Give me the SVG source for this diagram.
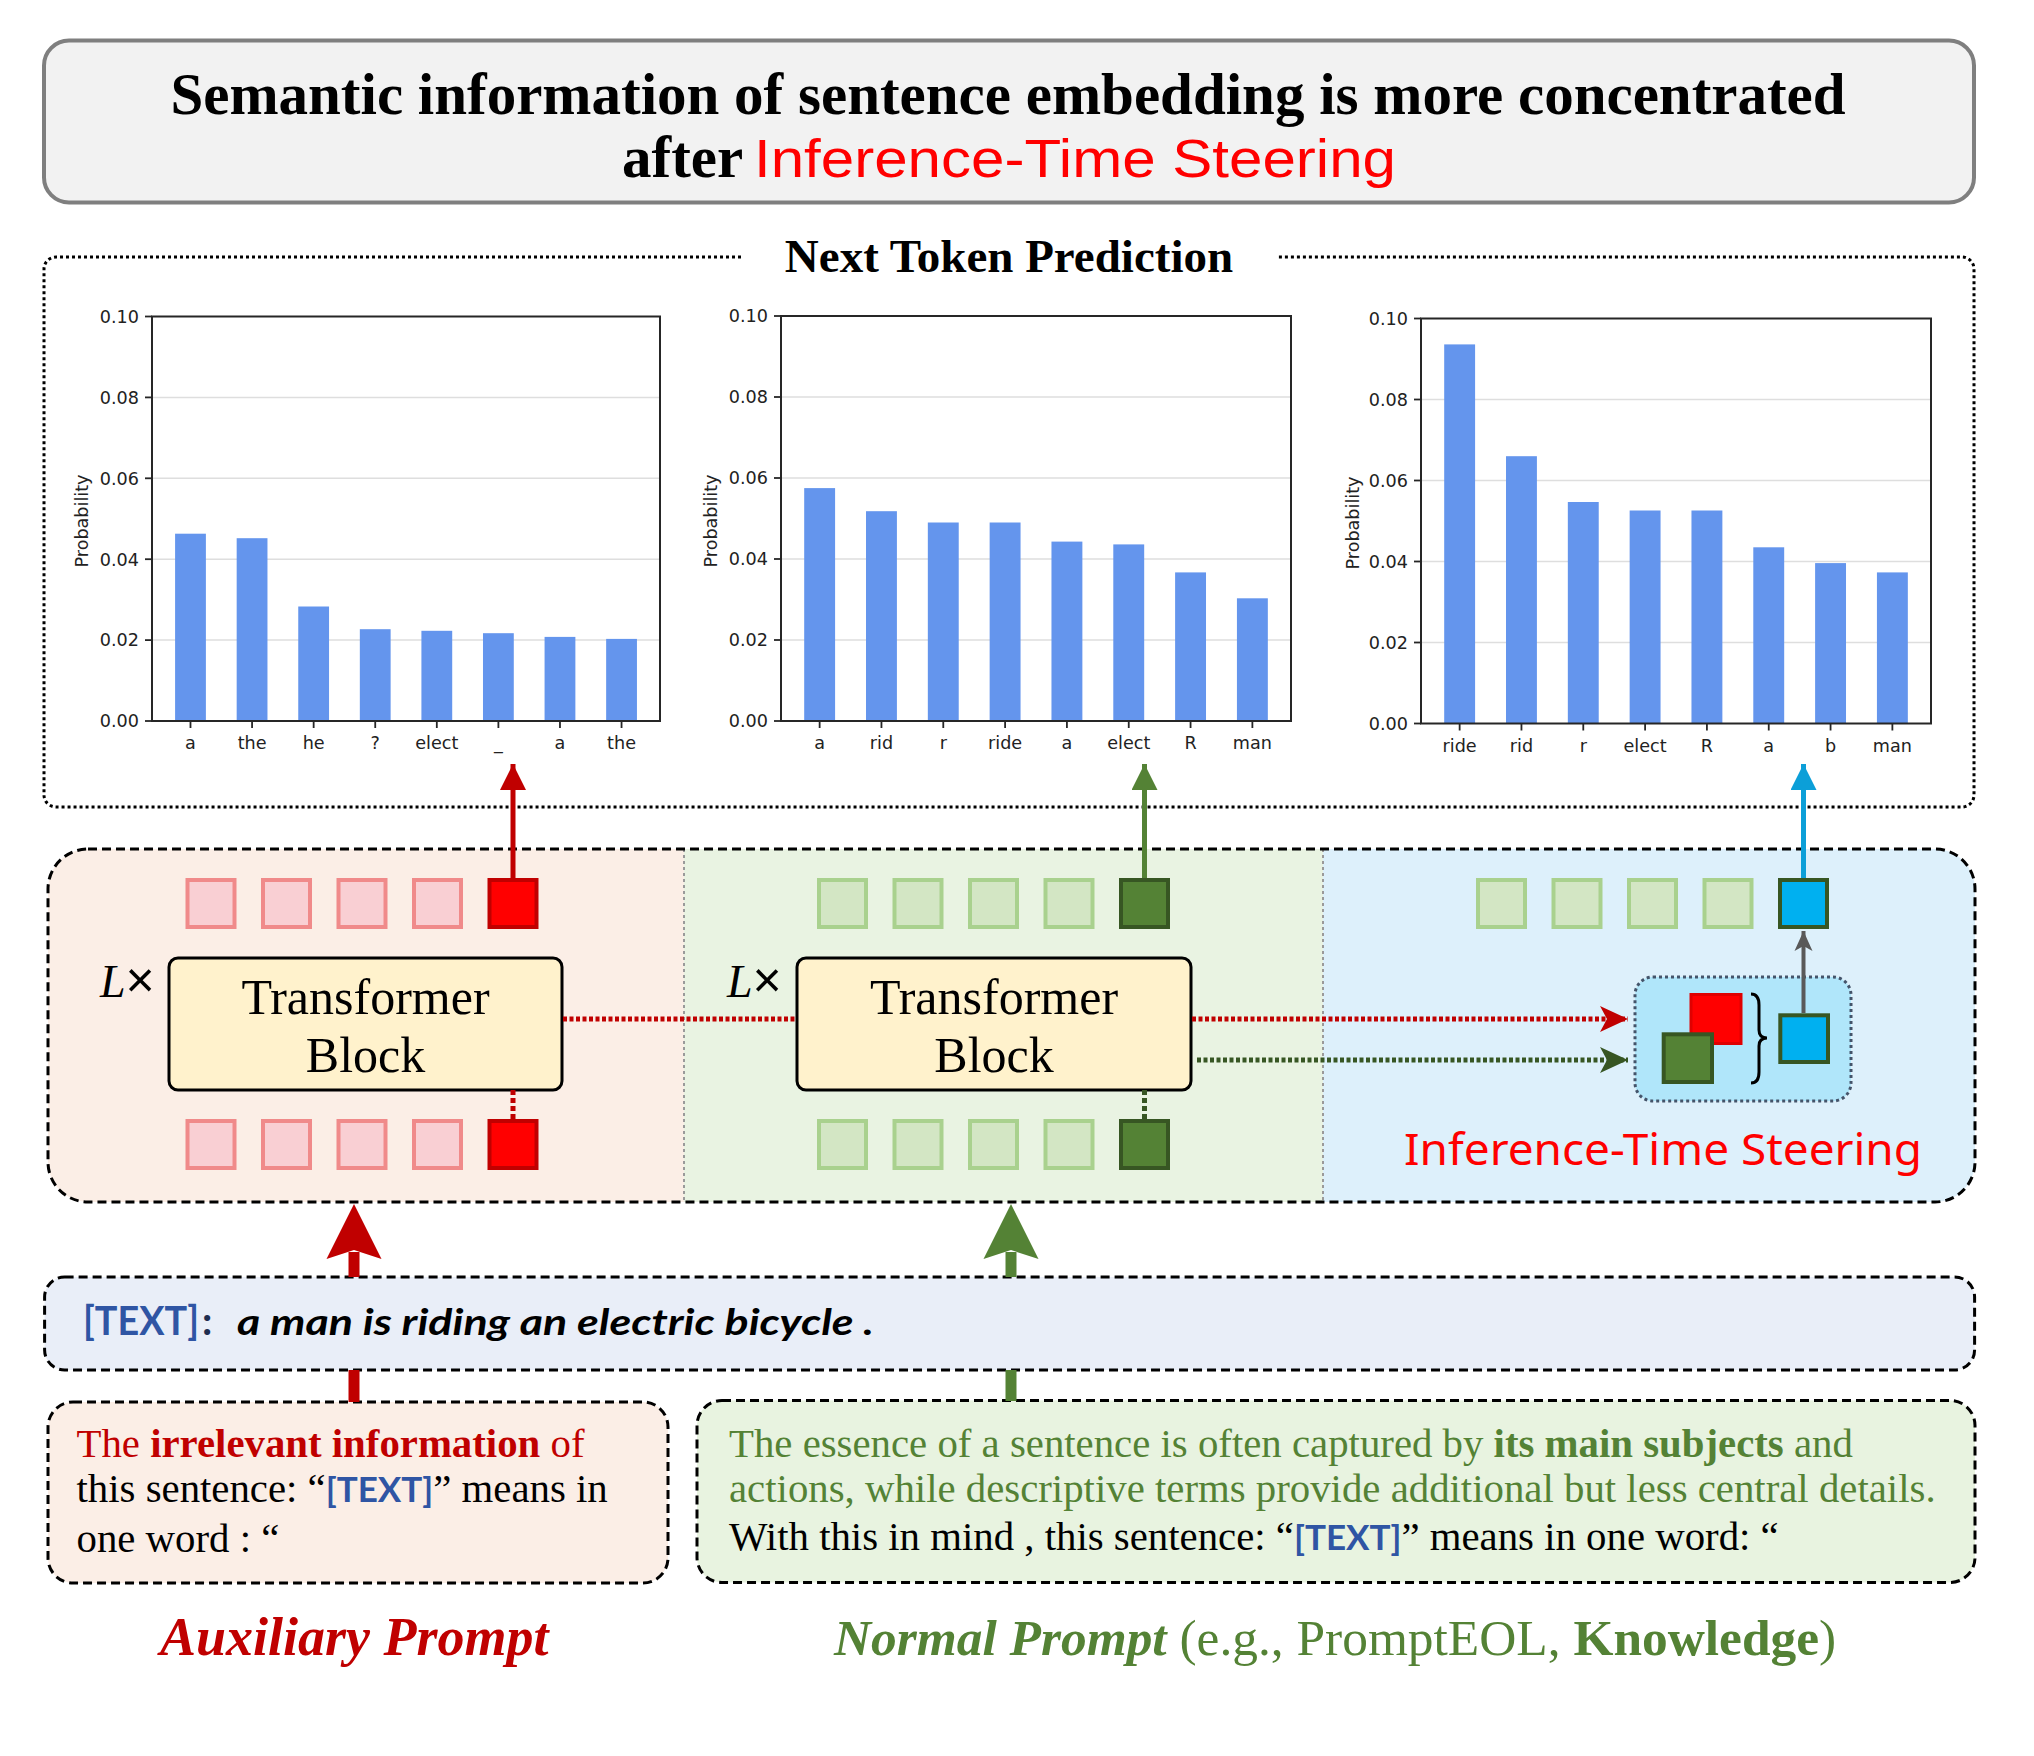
<svg xmlns="http://www.w3.org/2000/svg" width="2034" height="1756" viewBox="0 0 2034 1756">
<defs>
<style>
.serif{font-family:'Liberation Serif','Times New Roman',serif}
.tk{font-family:'DejaVu Sans',sans-serif;font-size:17.6px;fill:#222}
.bar{fill:#6495ed}
.grid{stroke:#dedede;stroke-width:1.5}
.spine{fill:none;stroke:#262626;stroke-width:2}
.tm{stroke:#262626;stroke-width:1.8}
.pink{fill:#f9cfd3;stroke:#f08a8a;stroke-width:4}
.lg{fill:#d3e6c4;stroke:#a9d18e;stroke-width:4}
.dg{fill:#548235;stroke:#375623;stroke-width:4}
.rd{fill:#ff0000;stroke:#c00000;stroke-width:4}
.bl{fill:#00b0f0;stroke:#375623;stroke-width:4}
.tb{fill:#fff2cc;stroke:#000;stroke-width:3}
.tbt{font-family:'Liberation Serif',serif;font-size:50px;fill:#000;text-anchor:middle}
.lx{font-family:'Liberation Serif',serif;font-size:46px;fill:#000}
.dash{stroke:#000;stroke-width:3;stroke-dasharray:9 5}
.ptxt{font-family:'Liberation Serif',serif;font-size:40.8px}
.tag{font-family:'Lato','Liberation Sans',sans-serif;font-weight:bold;fill:#2f55a4}
</style>
<marker id="headR" markerUnits="userSpaceOnUse" viewBox="0 0 26 26" refX="26" refY="13" markerWidth="26" markerHeight="26" orient="auto"><path d="M0,0 L26,13 L0,26 Z" fill="#c00000"/></marker>
<marker id="headG" markerUnits="userSpaceOnUse" viewBox="0 0 26 26" refX="26" refY="13" markerWidth="26" markerHeight="26" orient="auto"><path d="M0,0 L26,13 L0,26 Z" fill="#548235"/></marker>
<marker id="headC" markerUnits="userSpaceOnUse" viewBox="0 0 26 26" refX="26" refY="13" markerWidth="26" markerHeight="26" orient="auto"><path d="M0,0 L26,13 L0,26 Z" fill="#0c9fd8"/></marker>
<marker id="stealthR" markerUnits="userSpaceOnUse" viewBox="0 0 28 26" refX="28" refY="13" markerWidth="28" markerHeight="26" orient="auto"><path d="M0,0 L28,13 L0,26 L7,13 Z" fill="#c00000"/></marker>
<marker id="stealthG" markerUnits="userSpaceOnUse" viewBox="0 0 28 26" refX="28" refY="13" markerWidth="28" markerHeight="26" orient="auto"><path d="M0,0 L28,13 L0,26 L7,13 Z" fill="#375623"/></marker>
<marker id="openGray" markerUnits="userSpaceOnUse" viewBox="0 0 20 20" refX="20" refY="10" markerWidth="20" markerHeight="20" orient="auto"><path d="M0,1 L20,10 L0,19 L5,10 Z" fill="#595959"/></marker>
<clipPath id="secClip"><rect x="48" y="849" width="1927" height="353" rx="40"/></clipPath>
</defs>

<rect width="2034" height="1756" fill="#ffffff"/>

<!-- Title -->
<g id="title">
<rect x="44" y="40.5" width="1930" height="162" rx="25" fill="#f2f2f2" stroke="#7f7f7f" stroke-width="4"/>
<text class="serif" x="1008" y="114" font-size="59" font-weight="bold" text-anchor="middle" fill="#000">Semantic information of sentence embedding is more concentrated</text>
<text class="serif" x="622" y="177" font-size="59" font-weight="bold" fill="#000">after</text>
<text x="754" y="177" font-family="'Liberation Sans',sans-serif" font-size="54" fill="#ff0000" textLength="642" lengthAdjust="spacingAndGlyphs">Inference-Time Steering</text>
</g>

<!-- Next token prediction panel -->
<g id="ntp-panel">
<path d="M741,257 L56,257 A12,12 0 0 0 44,269 L44,795 A12,12 0 0 0 56,807 L1962,807 A12,12 0 0 0 1974,795 L1974,269 A12,12 0 0 0 1962,257 L1278,257" fill="none" stroke="#000" stroke-width="3" stroke-dasharray="3 3"/>
<text class="serif" x="1009" y="272" font-size="47" font-weight="bold" text-anchor="middle" fill="#000">Next Token Prediction</text>
</g>

<!-- Chart 1 -->
<g id="chart1">
<line class="grid" x1="152" y1="640.1" x2="660" y2="640.1"/>
<line class="grid" x1="152" y1="559.2" x2="660" y2="559.2"/>
<line class="grid" x1="152" y1="478.3" x2="660" y2="478.3"/>
<line class="grid" x1="152" y1="397.4" x2="660" y2="397.4"/>
<rect class="bar" x="175.09" y="533.7" width="30.8" height="187.3"/>
<rect class="bar" x="236.67" y="538.2" width="30.8" height="182.8"/>
<rect class="bar" x="298.25" y="606.5" width="30.8" height="114.5"/>
<rect class="bar" x="359.83" y="629.2" width="30.8" height="91.8"/>
<rect class="bar" x="421.41" y="630.8" width="30.8" height="90.2"/>
<rect class="bar" x="482.99" y="633.2" width="30.8" height="87.8"/>
<rect class="bar" x="544.57" y="636.9" width="30.8" height="84.1"/>
<rect class="bar" x="606.15" y="638.9" width="30.8" height="82.1"/>
<rect class="spine" x="152" y="316.5" width="508" height="404.5"/>
<g class="tm">
<line x1="145" y1="721" x2="152" y2="721"/><line x1="145" y1="640.1" x2="152" y2="640.1"/><line x1="145" y1="559.2" x2="152" y2="559.2"/><line x1="145" y1="478.3" x2="152" y2="478.3"/><line x1="145" y1="397.4" x2="152" y2="397.4"/><line x1="145" y1="316.5" x2="152" y2="316.5"/>
<line x1="190.49" y1="721" x2="190.49" y2="728"/><line x1="252.07" y1="721" x2="252.07" y2="728"/><line x1="313.65" y1="721" x2="313.65" y2="728"/><line x1="375.23" y1="721" x2="375.23" y2="728"/><line x1="436.81" y1="721" x2="436.81" y2="728"/><line x1="498.39" y1="721" x2="498.39" y2="728"/><line x1="559.97" y1="721" x2="559.97" y2="728"/><line x1="621.55" y1="721" x2="621.55" y2="728"/>
</g>
<g class="tk" text-anchor="end">
<text x="139" y="727.3">0.00</text><text x="139" y="646.4">0.02</text><text x="139" y="565.5">0.04</text><text x="139" y="484.6">0.06</text><text x="139" y="403.7">0.08</text><text x="139" y="322.8">0.10</text>
</g>
<g class="tk" text-anchor="middle">
<text x="190.49" y="749">a</text><text x="252.07" y="749">the</text><text x="313.65" y="749">he</text><text x="375.23" y="749">?</text><text x="436.81" y="749">elect</text><text x="498.39" y="749">_</text><text x="559.97" y="749">a</text><text x="621.55" y="749">the</text>
</g>
<text class="tk" text-anchor="middle" transform="translate(88,521) rotate(-90)">Probability</text>
</g>

<!-- Chart 2 -->
<g id="chart2">
<line class="grid" x1="781" y1="640" x2="1291" y2="640"/>
<line class="grid" x1="781" y1="559" x2="1291" y2="559"/>
<line class="grid" x1="781" y1="478" x2="1291" y2="478"/>
<line class="grid" x1="781" y1="397" x2="1291" y2="397"/>
<rect class="bar" x="804.19" y="488.1" width="30.9" height="232.9"/>
<rect class="bar" x="866.01" y="511.2" width="30.9" height="209.8"/>
<rect class="bar" x="927.83" y="522.5" width="30.9" height="198.5"/>
<rect class="bar" x="989.65" y="522.5" width="30.9" height="198.5"/>
<rect class="bar" x="1051.47" y="541.6" width="30.9" height="179.4"/>
<rect class="bar" x="1113.29" y="544.4" width="30.9" height="176.6"/>
<rect class="bar" x="1175.11" y="572.4" width="30.9" height="148.6"/>
<rect class="bar" x="1236.93" y="598.3" width="30.9" height="122.7"/>
<rect class="spine" x="781" y="316" width="510" height="405"/>
<g class="tm">
<line x1="774" y1="721" x2="781" y2="721"/><line x1="774" y1="640" x2="781" y2="640"/><line x1="774" y1="559" x2="781" y2="559"/><line x1="774" y1="478" x2="781" y2="478"/><line x1="774" y1="397" x2="781" y2="397"/><line x1="774" y1="316" x2="781" y2="316"/>
<line x1="819.64" y1="721" x2="819.64" y2="728"/><line x1="881.46" y1="721" x2="881.46" y2="728"/><line x1="943.28" y1="721" x2="943.28" y2="728"/><line x1="1005.1" y1="721" x2="1005.1" y2="728"/><line x1="1066.92" y1="721" x2="1066.92" y2="728"/><line x1="1128.74" y1="721" x2="1128.74" y2="728"/><line x1="1190.56" y1="721" x2="1190.56" y2="728"/><line x1="1252.38" y1="721" x2="1252.38" y2="728"/>
</g>
<g class="tk" text-anchor="end">
<text x="768" y="727.3">0.00</text><text x="768" y="646.3">0.02</text><text x="768" y="565.3">0.04</text><text x="768" y="484.3">0.06</text><text x="768" y="403.3">0.08</text><text x="768" y="322.3">0.10</text>
</g>
<g class="tk" text-anchor="middle">
<text x="819.64" y="749">a</text><text x="881.46" y="749">rid</text><text x="943.28" y="749">r</text><text x="1005.1" y="749">ride</text><text x="1066.92" y="749">a</text><text x="1128.74" y="749">elect</text><text x="1190.56" y="749">R</text><text x="1252.38" y="749">man</text>
</g>
<text class="tk" text-anchor="middle" transform="translate(717,521) rotate(-90)">Probability</text>
</g>

<!-- Chart 3 -->
<g id="chart3">
<line class="grid" x1="1421" y1="642.5" x2="1931" y2="642.5"/>
<line class="grid" x1="1421" y1="561.5" x2="1931" y2="561.5"/>
<line class="grid" x1="1421" y1="480.5" x2="1931" y2="480.5"/>
<line class="grid" x1="1421" y1="399.5" x2="1931" y2="399.5"/>
<rect class="bar" x="1444.19" y="344.4" width="30.9" height="379.1"/>
<rect class="bar" x="1506.01" y="456.2" width="30.9" height="267.3"/>
<rect class="bar" x="1567.83" y="502" width="30.9" height="221.5"/>
<rect class="bar" x="1629.65" y="510.5" width="30.9" height="213"/>
<rect class="bar" x="1691.47" y="510.5" width="30.9" height="213"/>
<rect class="bar" x="1753.29" y="547.3" width="30.9" height="176.2"/>
<rect class="bar" x="1815.11" y="563.1" width="30.9" height="160.4"/>
<rect class="bar" x="1876.93" y="572.4" width="30.9" height="151.1"/>
<rect class="spine" x="1421" y="318.5" width="510" height="405"/>
<g class="tm">
<line x1="1414" y1="723.5" x2="1421" y2="723.5"/><line x1="1414" y1="642.5" x2="1421" y2="642.5"/><line x1="1414" y1="561.5" x2="1421" y2="561.5"/><line x1="1414" y1="480.5" x2="1421" y2="480.5"/><line x1="1414" y1="399.5" x2="1421" y2="399.5"/><line x1="1414" y1="318.5" x2="1421" y2="318.5"/>
<line x1="1459.64" y1="723.5" x2="1459.64" y2="730.5"/><line x1="1521.46" y1="723.5" x2="1521.46" y2="730.5"/><line x1="1583.28" y1="723.5" x2="1583.28" y2="730.5"/><line x1="1645.1" y1="723.5" x2="1645.1" y2="730.5"/><line x1="1706.92" y1="723.5" x2="1706.92" y2="730.5"/><line x1="1768.74" y1="723.5" x2="1768.74" y2="730.5"/><line x1="1830.56" y1="723.5" x2="1830.56" y2="730.5"/><line x1="1892.38" y1="723.5" x2="1892.38" y2="730.5"/>
</g>
<g class="tk" text-anchor="end">
<text x="1408" y="729.8">0.00</text><text x="1408" y="648.8">0.02</text><text x="1408" y="567.8">0.04</text><text x="1408" y="486.8">0.06</text><text x="1408" y="405.8">0.08</text><text x="1408" y="324.8">0.10</text>
</g>
<g class="tk" text-anchor="middle">
<text x="1459.64" y="751.5">ride</text><text x="1521.46" y="751.5">rid</text><text x="1583.28" y="751.5">r</text><text x="1645.1" y="751.5">elect</text><text x="1706.92" y="751.5">R</text><text x="1768.74" y="751.5">a</text><text x="1830.56" y="751.5">b</text><text x="1892.38" y="751.5">man</text>
</g>
<text class="tk" text-anchor="middle" transform="translate(1359,523) rotate(-90)">Probability</text>
</g>

<!-- Model sections background -->
<g id="sections">
<g clip-path="url(#secClip)">
<rect x="48" y="849" width="636" height="353" fill="#fbeee6"/>
<rect x="684" y="849" width="639" height="353" fill="#e9f3e2"/>
<rect x="1323" y="849" width="652" height="353" fill="#ddf0fb"/>
</g>
<line x1="684" y1="849" x2="684" y2="1202" stroke="#9a9a9a" stroke-width="2" stroke-dasharray="3 3"/>
<line x1="1323" y1="849" x2="1323" y2="1202" stroke="#9a9a9a" stroke-width="2" stroke-dasharray="3 3"/>
<rect x="48" y="849" width="1927" height="353" rx="40" fill="none" class="dash" stroke-width="2.5"/>
</g>

<!-- Section 1: auxiliary -->
<g id="aux-tokens-top">
<rect class="pink" x="187.5" y="880" width="47" height="47"/>
<rect class="pink" x="263" y="880" width="47" height="47"/>
<rect class="pink" x="338.5" y="880" width="47" height="47"/>
<rect class="pink" x="414" y="880" width="47" height="47"/>
<rect class="rd" x="489.5" y="880" width="47" height="47"/>
</g>
<g id="aux-block">
<rect class="tb" x="169" y="958" width="393" height="132" rx="9"/>
<text class="tbt" x="365.5" y="1014">Transformer</text>
<text class="tbt" x="365.5" y="1072">Block</text>
<text class="lx" x="100" y="997"><tspan font-style="italic">L</tspan><tspan font-family="'Liberation Sans',sans-serif" font-size="50">×</tspan></text>
</g>
<g id="aux-tokens-bottom">
<rect class="pink" x="187.5" y="1121" width="47" height="47"/>
<rect class="pink" x="263" y="1121" width="47" height="47"/>
<rect class="pink" x="338.5" y="1121" width="47" height="47"/>
<rect class="pink" x="414" y="1121" width="47" height="47"/>
<rect class="rd" x="489.5" y="1121" width="47" height="47"/>
</g>

<!-- Section 2: normal -->
<g id="norm-tokens-top">
<rect class="lg" x="819" y="880" width="47" height="47"/>
<rect class="lg" x="894.5" y="880" width="47" height="47"/>
<rect class="lg" x="970" y="880" width="47" height="47"/>
<rect class="lg" x="1045.5" y="880" width="47" height="47"/>
<rect class="dg" x="1121" y="880" width="47" height="47"/>
</g>
<g id="norm-block">
<rect class="tb" x="797" y="958" width="394" height="132" rx="9"/>
<text class="tbt" x="994" y="1014">Transformer</text>
<text class="tbt" x="994" y="1072">Block</text>
<text class="lx" x="727" y="997"><tspan font-style="italic">L</tspan><tspan font-family="'Liberation Sans',sans-serif" font-size="50">×</tspan></text>
</g>
<g id="norm-tokens-bottom">
<rect class="lg" x="819" y="1121" width="47" height="47"/>
<rect class="lg" x="894.5" y="1121" width="47" height="47"/>
<rect class="lg" x="970" y="1121" width="47" height="47"/>
<rect class="lg" x="1045.5" y="1121" width="47" height="47"/>
<rect class="dg" x="1121" y="1121" width="47" height="47"/>
</g>

<!-- Section 3: steering -->
<g id="steer-tokens-top">
<rect class="lg" x="1478" y="880" width="47" height="47"/>
<rect class="lg" x="1553.5" y="880" width="47" height="47"/>
<rect class="lg" x="1629" y="880" width="47" height="47"/>
<rect class="lg" x="1704.5" y="880" width="47" height="47"/>
<rect class="bl" x="1780" y="880" width="47" height="47"/>
</g>
<g id="steer-box">
<rect x="1635" y="977" width="216" height="124" rx="18" fill="#b0e6fa" stroke="#44546a" stroke-width="3" stroke-dasharray="3 3"/>
<rect x="1691" y="994.5" width="50" height="49" fill="#ff0000" stroke="#e00000" stroke-width="3"/>
<rect class="dg" x="1663.7" y="1034.3" width="48.3" height="47.7"/>
<path d="M1751,994 Q1759,994 1759,1005 L1759,1030 Q1759,1038 1767,1038 Q1759,1038 1759,1046 L1759,1072 Q1759,1083 1751,1083" fill="none" stroke="#000" stroke-width="3"/>
<rect class="bl" x="1780.3" y="1015.3" width="47.7" height="46.7"/>
</g>
<g id="steer-label">
<text x="1404" y="1165" font-family="'Noto Sans',sans-serif" font-size="44" fill="#ff0000" textLength="518" lengthAdjust="spacingAndGlyphs">Inference-Time Steering</text>
</g>

<!-- Input sentence -->
<g id="input-text">
<rect x="44.6" y="1277" width="1930" height="93" rx="20" fill="#e9eef8" class="dash"/>
<text class="tag" x="83" y="1335" font-size="40" textLength="116" lengthAdjust="spacingAndGlyphs">[TEXT]</text>
<text x="202" y="1335" font-family="'Lato',sans-serif" font-weight="bold" font-size="40" fill="#1f2d4f">:</text>
<text x="237" y="1335" font-family="'Lato','Liberation Sans',sans-serif" font-weight="bold" font-style="italic" font-size="37" fill="#000" textLength="637" lengthAdjust="spacingAndGlyphs">a man is riding an electric bicycle .</text>
</g>

<!-- Prompts -->
<g id="aux-prompt">
<rect x="48" y="1402" width="620" height="181" rx="25" fill="#fbeee6" class="dash"/>
<text class="ptxt" x="76.5" y="1457" fill="#c00000">The <tspan font-weight="bold">irrelevant information</tspan> of</text>
<text class="ptxt" x="76.5" y="1502" fill="#000">this sentence: “<tspan class="tag" font-size="35">[TEXT]</tspan>” means in</text>
<text class="ptxt" x="76.5" y="1552" fill="#000">one word : “</text>
</g>
<g id="normal-prompt">
<rect x="697" y="1400.5" width="1278" height="182" rx="25" fill="#e8f3e0" class="dash"/>
<text class="ptxt" x="729" y="1457" fill="#548235">The essence of a sentence is often captured by <tspan font-weight="bold">its main subjects</tspan> and</text>
<text class="ptxt" x="729" y="1502" fill="#548235">actions, while descriptive terms provide additional but less central details.</text>
<text class="ptxt" x="729" y="1550" fill="#000">With this in mind , this sentence: “<tspan class="tag" font-size="35">[TEXT]</tspan>” means in one word: “</text>
</g>

<!-- Bottom labels -->
<g id="labels">
<text class="serif" x="160" y="1655" font-size="54" font-weight="bold" font-style="italic" fill="#c00000">Auxiliary Prompt</text>
<text class="serif" x="834" y="1655" font-size="51.4" fill="#548235"><tspan font-weight="bold" font-style="italic">Normal Prompt</tspan> (e.g., PromptEOL, <tspan font-weight="bold">Knowledge</tspan>)</text>
</g>

<!-- Connectors -->
<g id="connectors">
<line x1="513" y1="878" x2="513" y2="764" stroke="#c00000" stroke-width="5" marker-end="url(#headR)"/>
<line x1="1144.5" y1="878" x2="1144.5" y2="764" stroke="#548235" stroke-width="5" marker-end="url(#headG)"/>
<line x1="1803.5" y1="878" x2="1803.5" y2="764" stroke="#0c9fd8" stroke-width="5" marker-end="url(#headC)"/>
<line x1="513" y1="1090" x2="513" y2="1120" stroke="#c00000" stroke-width="5" stroke-dasharray="5 3"/>
<line x1="1144.5" y1="1090" x2="1144.5" y2="1120" stroke="#375623" stroke-width="5" stroke-dasharray="5 3"/>
<line x1="563" y1="1019" x2="796" y2="1019" stroke="#c00000" stroke-width="5" stroke-dasharray="4 2.5"/>
<line x1="1192" y1="1019" x2="1628" y2="1019" stroke="#c00000" stroke-width="5" stroke-dasharray="4 2.5" marker-end="url(#stealthR)"/>
<line x1="1197" y1="1060" x2="1628" y2="1060" stroke="#375623" stroke-width="5" stroke-dasharray="4 2.5" marker-end="url(#stealthG)"/>
<line x1="1803.5" y1="1013" x2="1803.5" y2="931" stroke="#595959" stroke-width="4" marker-end="url(#openGray)"/>
<path d="M354,1204 L381.5,1259 L354,1250 L326.5,1259 Z" fill="#c00000"/>
<line x1="354" y1="1252" x2="354" y2="1277" stroke="#c00000" stroke-width="11"/>
<line x1="354" y1="1370" x2="354" y2="1402" stroke="#c00000" stroke-width="11"/>
<path d="M1011,1204 L1038.5,1259 L1011,1250 L983.5,1259 Z" fill="#548235"/>
<line x1="1011" y1="1252" x2="1011" y2="1277" stroke="#548235" stroke-width="11"/>
<line x1="1011" y1="1370" x2="1011" y2="1401" stroke="#548235" stroke-width="11"/>
</g>
</svg>
